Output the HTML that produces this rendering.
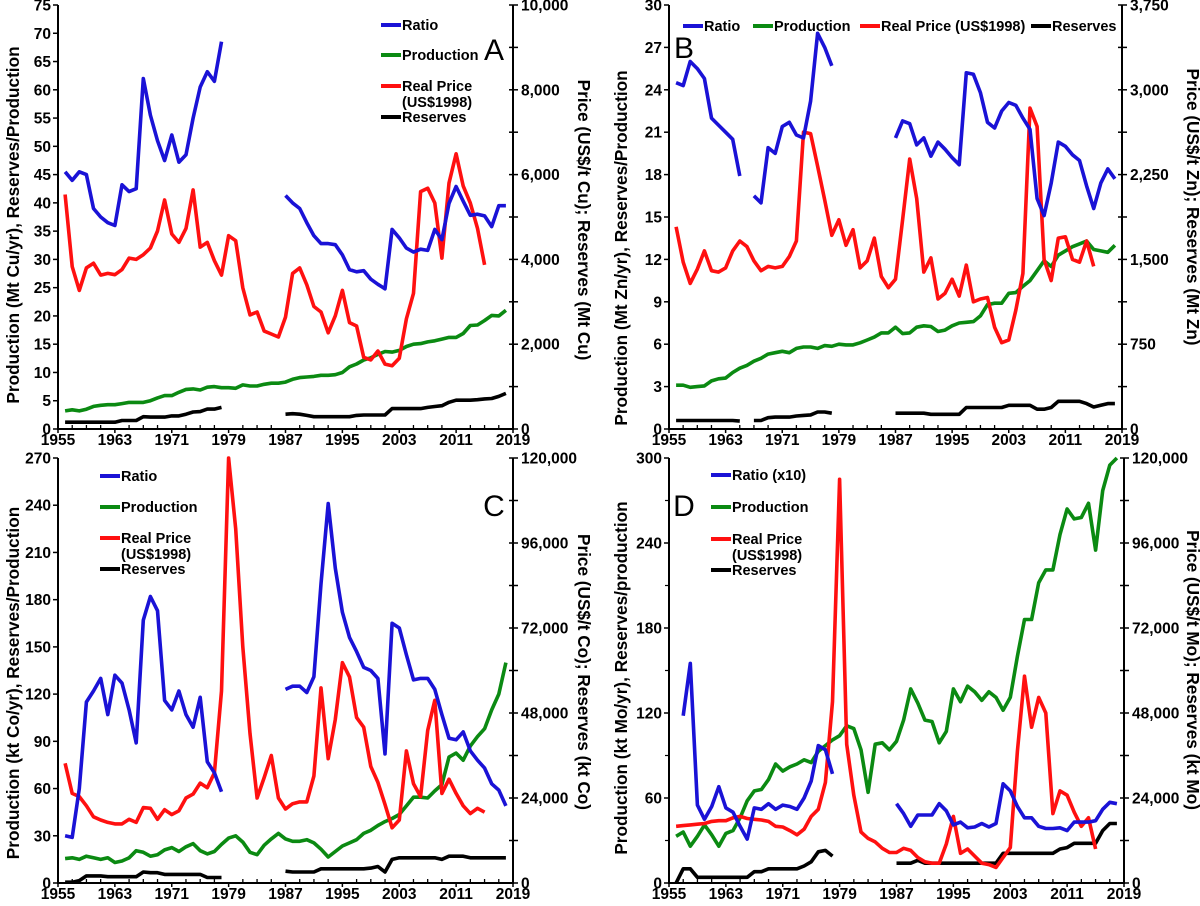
<!DOCTYPE html>
<html><head><meta charset="utf-8">
<style>
html,body{margin:0;padding:0;background:#fff;}
svg{display:block;font-family:"Liberation Sans",Arial,sans-serif;}
</style></head>
<body>
<svg id="chart" width="1200" height="906" viewBox="0 0 1200 906" xmlns="http://www.w3.org/2000/svg"></svg>
<script>
// ---------- DATA (years 1956..2018, null = gap) ----------
const yearStart = 1956;
const yearTicks = [1955,1963,1971,1979,1987,1995,2003,2011,2019];
// Panel A: Copper
const aRatio = [45.5,44,45.5,45,39,37.5,36.5,36,43.2,42,42.5,62,55.5,51,47.5,52,47.2,48.5,55,60.5,63.2,61.5,68.5,null,null,null,null,null,null,null,null,41.3,40,39,36.5,34.2,32.8,32.8,32.6,30.8,28.2,27.8,28,26.5,25.6,24.8,35.3,33.8,32,31.3,31.8,31.6,35.3,33.5,39.9,42.9,40.3,37.8,38,37.7,35.8,39.5,39.5];
const aProduction = [3.2,3.4,3.2,3.5,4,4.2,4.3,4.3,4.5,4.7,4.7,4.7,5,5.5,5.9,5.9,6.5,7,7.1,6.9,7.4,7.5,7.3,7.3,7.2,7.8,7.6,7.6,7.9,8.1,8.1,8.3,8.8,9.1,9.2,9.3,9.5,9.5,9.6,10,11,11.5,12.2,12.6,13.2,13.7,13.6,13.9,14.6,15,15.1,15.4,15.6,15.9,16.2,16.2,16.9,18.3,18.4,19.2,20.1,20,21];
const aPrice = [5530,3830,3270,3800,3910,3630,3670,3640,3760,4030,4000,4110,4270,4670,5400,4600,4400,4730,5640,4290,4400,3970,3630,4560,4440,3330,2690,2760,2310,2240,2170,2640,3670,3800,3400,2890,2760,2270,2670,3270,2510,2430,1690,1630,1840,1530,1490,1670,2600,3200,5600,5680,5330,4030,5800,6490,5730,5330,4730,3870,null,null,null];
const aReserves = [160,160,160,160,160,160,160,160,200,200,200,290,280,280,280,310,310,350,400,410,470,470,510,null,null,null,null,null,null,null,null,350,360,350,320,290,290,290,290,290,290,320,330,330,330,330,480,480,480,480,480,510,530,550,630,680,680,680,690,710,720,770,840];
const aLeftTicks = [0,5,10,15,20,25,30,35,40,45,50,55,60,65,70,75];
const aRightTicks = ["0","2,000","4,000","6,000","8,000","10,000"];
// Panel B: Zinc
const bRatio = [24.5,24.3,26,25.5,24.8,22,21.5,21,20.5,17.9,null,16.5,16,19.9,19.5,21.4,21.7,20.8,20.6,23.2,28,27,25.7,null,null,null,null,null,null,null,null,20.6,21.8,21.6,20.1,20.6,19.3,20.3,19.8,19.2,18.7,25.2,25.1,23.8,21.7,21.3,22.5,23.1,22.9,22,21.2,16.3,15.1,17.4,20.3,20,19.4,19,17.2,15.6,17.4,18.4,17.7];
const bProduction = [3.1,3.1,2.95,3,3.05,3.4,3.55,3.6,4,4.3,4.5,4.8,5,5.3,5.4,5.5,5.4,5.7,5.8,5.8,5.7,5.9,5.85,6,5.95,5.95,6.1,6.3,6.5,6.8,6.8,7.2,6.75,6.8,7.2,7.3,7.25,6.9,7,7.3,7.5,7.55,7.6,8,8.8,8.9,8.9,9.6,9.65,10.1,10.5,11.2,11.9,11.5,12.3,12.6,12.9,13.1,13.3,12.7,12.6,12.5,13];
const bPrice = [1788,1475,1288,1413,1575,1400,1388,1425,1575,1663,1613,1488,1400,1438,1425,1438,1525,1663,2625,2613,2325,2025,1713,1850,1625,1763,1425,1488,1688,1350,1250,1325,1850,2388,2038,1388,1513,1150,1200,1325,1175,1450,1125,1150,1163,900,763,788,1050,1375,2838,2675,1500,1313,1688,1700,1500,1475,1663,1438,null,null,null];
const bReserves = [75,75,75,75,75,75,75,75,75,70,null,75,75,100,105,105,105,115,120,125,150,150,140,null,null,null,null,null,null,null,null,140,140,140,140,140,130,130,130,130,130,190,190,190,190,190,190,210,210,210,210,175,175,190,245,245,245,245,225,195,210,225,225];
const bLeftTicks = [0,3,6,9,12,15,18,21,24,27,30];
const bRightTicks = ["0","750","1,500","2,250","3,000","3,750"];
// Panel C: Cobalt
const cRatio = [30,29,60,115,122,130,107,132,127,110,89,167,182,173,116,110,122,107,99,118,77,70,58,null,null,null,null,null,null,null,null,123,125,125,121,131,190,241,200,172,156,147,137,135,130,82,165,162,145,129,130,130,123,107,92,91,96,84,78,73,63,59,49];
const cProduction = [15.5,16,15,17,16,15,16,13,14,16,20.5,19.5,17,18,21,22.5,20,23,25,20.5,18.5,20,24.5,28.5,30,26,19.5,18,24,28,31.5,28,26.5,26.5,27.5,25.5,21.5,16.5,20,23.5,25.5,27.5,31.5,33.5,36.5,39,41,43.5,49,54.5,54.5,54,58.5,62.5,80,82.5,78,87,93,98,110,120,140];
const cPrice = [33800,25300,24400,21800,18700,17800,17100,16700,16700,18000,17100,21300,21100,18000,20700,19300,20400,24000,25100,28200,26900,31100,54200,120000,100000,66700,42200,24000,29800,36000,24000,20900,22400,22900,22900,30200,55100,35100,46200,62200,58200,46700,44000,32900,28400,22200,15600,17800,37300,28000,24400,43100,51600,25300,29300,25300,21800,19600,21100,20000,null,null,null];
const cReserves = [220,220,670,2000,2000,2000,1780,1780,1780,1780,1780,3100,2900,2900,2440,2440,2440,2440,2440,2440,1560,1560,1560,null,null,null,null,null,null,null,null,3330,3110,3110,3110,3110,4000,4000,4000,4000,4000,4000,4000,4220,4670,3110,6670,7110,7110,7110,7110,7110,7110,6670,7560,7560,7560,7110,7110,7110,7110,7110,7110];
const cLeftTicks = [0,30,60,90,120,150,180,210,240,270];
const cRightTicks = ["0","24,000","48,000","72,000","96,000","120,000"];
// Panel D: Molybdenum
const dRatio = [null,118,155,55,45,54,68,53,50,40,31,53,52,56,52,55,54,52,60,72,97,94,77,null,null,null,null,null,null,null,null,56,49,40,48,48,48,56,51,41,43,39,39.5,42,39.5,42,70,65,54,46,46,40,38.5,38.5,39,37,43,43,43,44,52,57,56];
const dProduction = [33,36,26,33,41,34,26,35,37,46,58,65,66,73,84,79,82,84,87,85,93,97,101,104,111,109,94,64,98,99,94,100,115,137,127,115,114,99,107,137,128,139,135,129,135,131,122,131,160,186,186,212,221,221,246,264,257,258,268,235,277,295,300];
const dPrice = [16000,16200,16400,16600,16800,17400,17600,17600,18400,18800,18200,18000,17800,17400,16000,15800,14800,13600,15200,18800,20800,28400,51200,114000,39200,24800,14400,12600,11600,9800,8600,8600,9800,9200,7200,6000,5600,5600,11000,18800,8400,9600,7600,5600,5200,4400,7200,10000,37200,58400,44000,52400,48000,19600,26000,24800,20000,16000,18400,9600,null,null,null];
const dReserves = [0,4000,4000,1600,1600,1600,1600,1600,1600,1600,1600,3200,3200,4000,4000,4000,4000,4000,4800,6000,8800,9200,7600,null,null,null,null,null,null,null,null,5600,5600,5600,6400,5600,5600,5600,5600,5600,5600,5600,5600,5600,5600,5600,8400,8400,8400,8400,8400,8400,8400,8400,9600,10000,11200,11200,11200,11200,14800,16800,16800];
const dLeftTicks = [0,60,120,180,240,300];
const dRightTicks = ["0","24,000","48,000","72,000","96,000","120,000"];

// ---------- LAYOUT ----------
const svg = document.getElementById('chart');
const NS = 'http://www.w3.org/2000/svg';
const BLUE='#1a12d6', GREEN='#0b8a12', RED='#ff1010', BLACK='#000';
const TICKFS = 15.5, TITLEFS = 17.2, LEGFS = 14.5;
function mk(tag, attrs, parent){
  const e=document.createElementNS(NS,tag);
  for(const k in attrs) e.setAttribute(k,attrs[k]);
  (parent||svg).appendChild(e); return e;
}
function drawPanel(p){
  const g = mk('g',{});
  
  
  const xs = y => p.x0 + (y-1955)/64*(p.x1-p.x0);
  const yl = v => p.yb - v/p.lmax*(p.yb-p.yt);
  const yr = v => p.yb - v/p.rmax*(p.yb-p.yt);
  const ax = mk('path',{d:`M${p.x0},${p.yt} V${p.yb} H${p.x1} V${p.yt}`,fill:'none',stroke:'#000','stroke-width':2},g);
  
  
  p.lt.forEach(v=>{
    const y=yl(v);
    mk('line',{x1:p.x0-5,x2:p.x0,y1:y,y2:y,stroke:'#000','stroke-width':1.5},g);
    if(p.lminor){const ym=yl(v+p.lminor); if(v+p.lminor<p.lmax) mk('line',{x1:p.x0-4,x2:p.x0,y1:ym,y2:ym,stroke:'#000','stroke-width':1.2},g);}
    const t=mk('text',{x:p.x0-7,y:y+5.5,'text-anchor':'end','font-size':TICKFS,'font-weight':'bold'},g);
    t.textContent=v;
    
    
  });
  const nr = p.rt.length-1;
  for(let i=0;i<=nr*2;i++){
    const y = p.yb - i/(nr*2)*(p.yb-p.yt);
    mk('line',{x1:p.x1,x2:p.x1+5,y1:y,y2:y,stroke:'#000','stroke-width':1.5},g);
    mk('line',{x1:p.x1-4,x2:p.x1,y1:y,y2:y,stroke:'#000','stroke-width':1.5},g);
  }
  p.rt.forEach((lab,i)=>{
    const y = p.yb - i/nr*(p.yb-p.yt);
    const t=mk('text',{x:p.x1+8,y:y+5.5,'font-size':TICKFS,'font-weight':'bold'},g);
    t.textContent=lab;
    
    
  });
  yearTicks.forEach(yr_=>{
    const x=xs(yr_);
    mk('line',{x1:x,x2:x,y1:p.yb,y2:p.yb+4,stroke:'#000','stroke-width':1.5},g);
    const t=mk('text',{x:x,y:p.yb+16,'text-anchor':'middle','font-size':TICKFS,'font-weight':'bold'},g);
    t.textContent=yr_;
    
    
  });
  for(let yy=1957;yy<2019;yy+=2){ if((yy-1955)%8===0) continue; const x=xs(yy); mk('line',{x1:x,x2:x,y1:p.yb-4,y2:p.yb,stroke:'#000','stroke-width':1.3},g);}
  const series=[
    {arr:p.prod,c:GREEN,s:yl,n:'production-line'},
    {arr:p.res,c:BLACK,s:yr,n:'reserves-line'},
    {arr:p.price,c:RED,s:yr,n:'price-line'},
    {arr:p.ratio,c:BLUE,s:yl,n:'ratio-line'}
  ];
  series.forEach(sr=>{
    let d='', pen=false;
    sr.arr.forEach((v,i)=>{
      if(v===null){pen=false;return;}
      d += (pen?'L':'M') + xs(yearStart+i).toFixed(1)+','+sr.s(v).toFixed(1)+' ';
      pen=true;
    });
    const pth=mk('path',{d:d,fill:'none',stroke:sr.c,'stroke-width':3.6,'stroke-linejoin':'round'},g);
    
    
  });
  const lt=mk('text',{transform:`translate(${p.ltx},${p.lty}) rotate(-90)`,'text-anchor':'middle','font-size':TITLEFS,'font-weight':'bold'},g);
  lt.textContent=p.ltitle;
  
  
  const rt=mk('text',{transform:`translate(${p.rtx},${p.rty}) rotate(90)`,'text-anchor':'middle','font-size':TITLEFS,'font-weight':'bold'},g);
  rt.textContent=p.rtitle;
  
  
  const pl=mk('text',{x:p.lx,y:p.ly,'font-size':30,'text-anchor':'middle'},g);
  pl.textContent=p.id;
  
  
  p.legend.forEach(L=>{
    mk('line',{x1:L[0],x2:L[0]+20,y1:L[1],y2:L[1],stroke:L[2],'stroke-width':4},g);
    L[3].forEach((line,j)=>{
      const t=mk('text',{x:L[0]+21,y:L[1]+5+j*16,'font-size':LEGFS,'font-weight':'bold'},g);
      t.textContent=line;
      
      
    });
  });
}
drawPanel({id:'A',x0:58,x1:513,yt:5,yb:429,lmax:75,rmax:10000,lt:aLeftTicks,rt:aRightTicks,
  ratio:aRatio,prod:aProduction,price:aPrice,res:aReserves,
  ltitle:'Production (Mt Cu/yr), Reserves/Production',ltx:19,lty:225,
  rtitle:'Price (US$/t Cu); Reserves  (Mt Cu)',rtx:578,rty:220,lx:494,ly:60,
  legend:[[381,25,BLUE,['Ratio']],[381,55,GREEN,['Production']],[381,86,RED,['Real Price','(US$1998)']],[381,117,BLACK,['Reserves']]]});
drawPanel({id:'B',x0:669,x1:1122,yt:5,yb:429,lmax:30,rmax:3750,lt:bLeftTicks,rt:bRightTicks,
  ratio:bRatio,prod:bProduction,price:bPrice,res:bReserves,
  ltitle:'Production (Mt Zn/yr), Reserves/Production',ltx:627,lty:248,
  rtitle:'Price (US$/t Zn); Reserves  (Mt Zn)',rtx:1187,rty:207,lx:684,ly:58,
  legend:[[683,26,BLUE,['Ratio']],[753,26,GREEN,['Production']],[860,26,RED,['Real Price (US$1998)']],[1031,26,BLACK,['Reserves']]]});
drawPanel({id:'C',x0:58,x1:513,yt:458,yb:883,lmax:270,rmax:120000,lt:cLeftTicks,rt:cRightTicks,
  ratio:cRatio,prod:cProduction,price:cPrice,res:cReserves,
  ltitle:'Production (kt Co/yr), Reserves/Production',ltx:19,lty:683,
  rtitle:'Price (US$/t Co); Reserves  (kt Co)',rtx:578,rty:672,lx:494,ly:516,
  legend:[[100,476,BLUE,['Ratio']],[100,507,GREEN,['Production']],[100,538,RED,['Real Price','(US$1998)']],[100,569,BLACK,['Reserves']]]});
drawPanel({id:'D',x0:669,x1:1124,yt:458,yb:883,lmax:300,rmax:120000,lt:dLeftTicks,rt:dRightTicks,lminor:30,
  ratio:dRatio,prod:dProduction,price:dPrice,res:dReserves,
  ltitle:'Production (kt Mo/yr), Reserves/production',ltx:627,lty:678,
  rtitle:'Price (US$/t Mo); Reserves  (kt Mo)',rtx:1187,rty:670,lx:684,ly:516,
  legend:[[711,475,BLUE,['Ratio (x10)']],[711,507,GREEN,['Production']],[711,539,RED,['Real Price','(US$1998)']],[711,570,BLACK,['Reserves']]]});
</script>
</body></html>
